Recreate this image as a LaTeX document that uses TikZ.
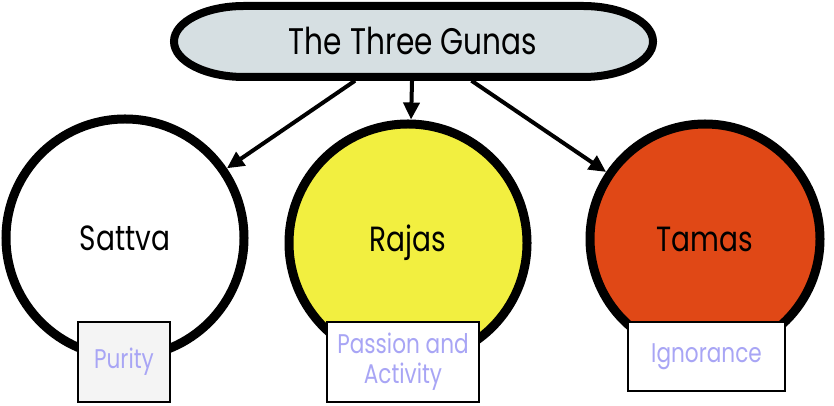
\documentclass[tikz,border=0pt]{standalone}
\usepackage{fontspec}
\setmainfont{Poppins}[FakeStretch=0.8]
\usepackage{xcolor}
\usetikzlibrary{arrows.meta}

\definecolor{pillgray}{HTML}{D6DFE2}
\definecolor{rajasyellow}{HTML}{F2EF40}
\definecolor{tamasred}{HTML}{E04816}
\definecolor{lavender}{HTML}{A8A5F5}
\definecolor{boxgray}{HTML}{F4F4F4}

\begin{document}
\begin{tikzpicture}[x=1pt, y=1pt,
		guna/.style = {circle, draw, line width=9pt, font=\fontsize{35}{40}\selectfont},
		quality/.style = {draw, line width=2pt, fill=white, text=lavender, align=center,
			inner sep=0pt, font=\fontsize{27}{30}\selectfont}]
			\useasboundingbox (0,0) rectangle (834,406);
			\def\rx{70};
			\def\ry{35.5};
			
			% the pill behind the title
			\filldraw[fill=pillgray, line width=8pt]
				(244,400) -- (583,400)
				arc[start angle=90, end angle=-90, x radius=\rx, y radius=\ry]
				-- (244,329)
				arc[start angle=270, end angle=90, x radius=\rx, y radius=\ry] -- cycle;
			\node[minimum width=487pt, minimum height=79pt, inner sep=0pt,
				font=\fontsize{37}{40}\selectfont] (pill) at (413,365) {The Three Gunas};
			
			\node[guna, minimum size=238pt] (sattva) at (125,168) {Sattva};
			\node[guna, fill=rajasyellow, minimum size=238pt] (rajas) at (408,163) {Rajas};
			\node[guna, fill=tamasred, minimum size=230pt] (tamas) at (705,167) {Tamas};
			
			\begin{scope}[-{Triangle[length=17pt, width=16pt]}, line width=4pt]
				\draw (pill) -- (sattva);
				\draw (pill) -- (rajas);
				\draw (pill) -- (tamas);
			\end{scope}
			
			\node[quality, fill=boxgray, minimum width=92pt, minimum height=80pt] (purity) at (124,44) {Purity};
			\node[quality, minimum width=152pt, minimum height=80pt] (passion) at (403,44) {Passion and\\Activity};
			\node[quality, minimum width=157pt, minimum height=69pt] (ignorance) at (706.5,49.5) {Ignorance};
		\end{tikzpicture}
\end{document}
